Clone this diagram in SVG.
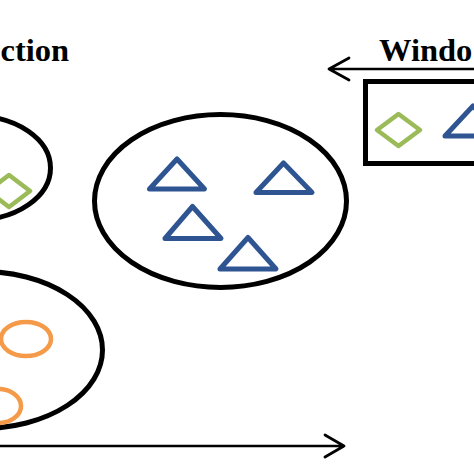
<svg xmlns="http://www.w3.org/2000/svg" width="474" height="474" viewBox="0 0 474 474">
<style>
.lbl{font-family:"Liberation Serif","Times New Roman",serif;font-weight:bold;font-size:32.5px;fill:#000}
.grp{fill:none;stroke:#000;stroke-width:5}
.tri{fill:none;stroke:#2E5591;stroke-width:5;stroke-linejoin:round}
.dia{fill:none;stroke:#9BBB59;stroke-width:4.5;stroke-linejoin:round}
.orb{fill:none;stroke:#F59A48;stroke-width:4.5}
.arr{fill:none;stroke:#000;stroke-width:2.7;stroke-linecap:round;stroke-linejoin:round}
</style>
<rect width="474" height="474" fill="#fff"/>
<g id="label-left"><text class="lbl" x="0.5" y="61">ction</text></g>
<g id="label-right"><text class="lbl" x="379" y="61">Windo</text></g>
<g id="cluster-top-left">
<ellipse class="grp" cx="-25" cy="168" rx="75.5" ry="52"/>
<polygon class="dia" points="-12,191 9,175 30,191 9,207"/>
</g>
<g id="cluster-middle">
<ellipse class="grp" cx="220.5" cy="201" rx="126" ry="86.5"/>
<polygon class="tri" points="149.5,189 177,159 204.5,189"/>
<polygon class="tri" points="256,192.5 283.5,163 312,192.5"/>
<polygon class="tri" points="165,238.5 192.5,206.5 221,238.5"/>
<polygon class="tri" points="220,269 248,237.5 276,269"/>
</g>
<g id="cluster-bottom-left">
<ellipse class="grp" cx="-18" cy="350" rx="120.5" ry="78.5"/>
<ellipse class="orb" cx="26" cy="339" rx="25" ry="17"/>
<ellipse class="orb" cx="-2" cy="406" rx="23" ry="17"/>
</g>
<g id="window">
<rect class="grp" x="365.5" y="81.5" width="140" height="82" stroke-width="6"/>
<polygon class="dia" points="377,130 398.5,114 420,130 398.5,146"/>
<polygon class="tri" points="445,136 473,106 501,136"/>
</g>
<g id="connectors">
<path class="arr" d="M480,69 H329 M349,58 L329,69 L349,80"/>
<path class="arr" d="M-5,446 H344 M325,435 L344,446 L325,457"/>
</g>
</svg>
